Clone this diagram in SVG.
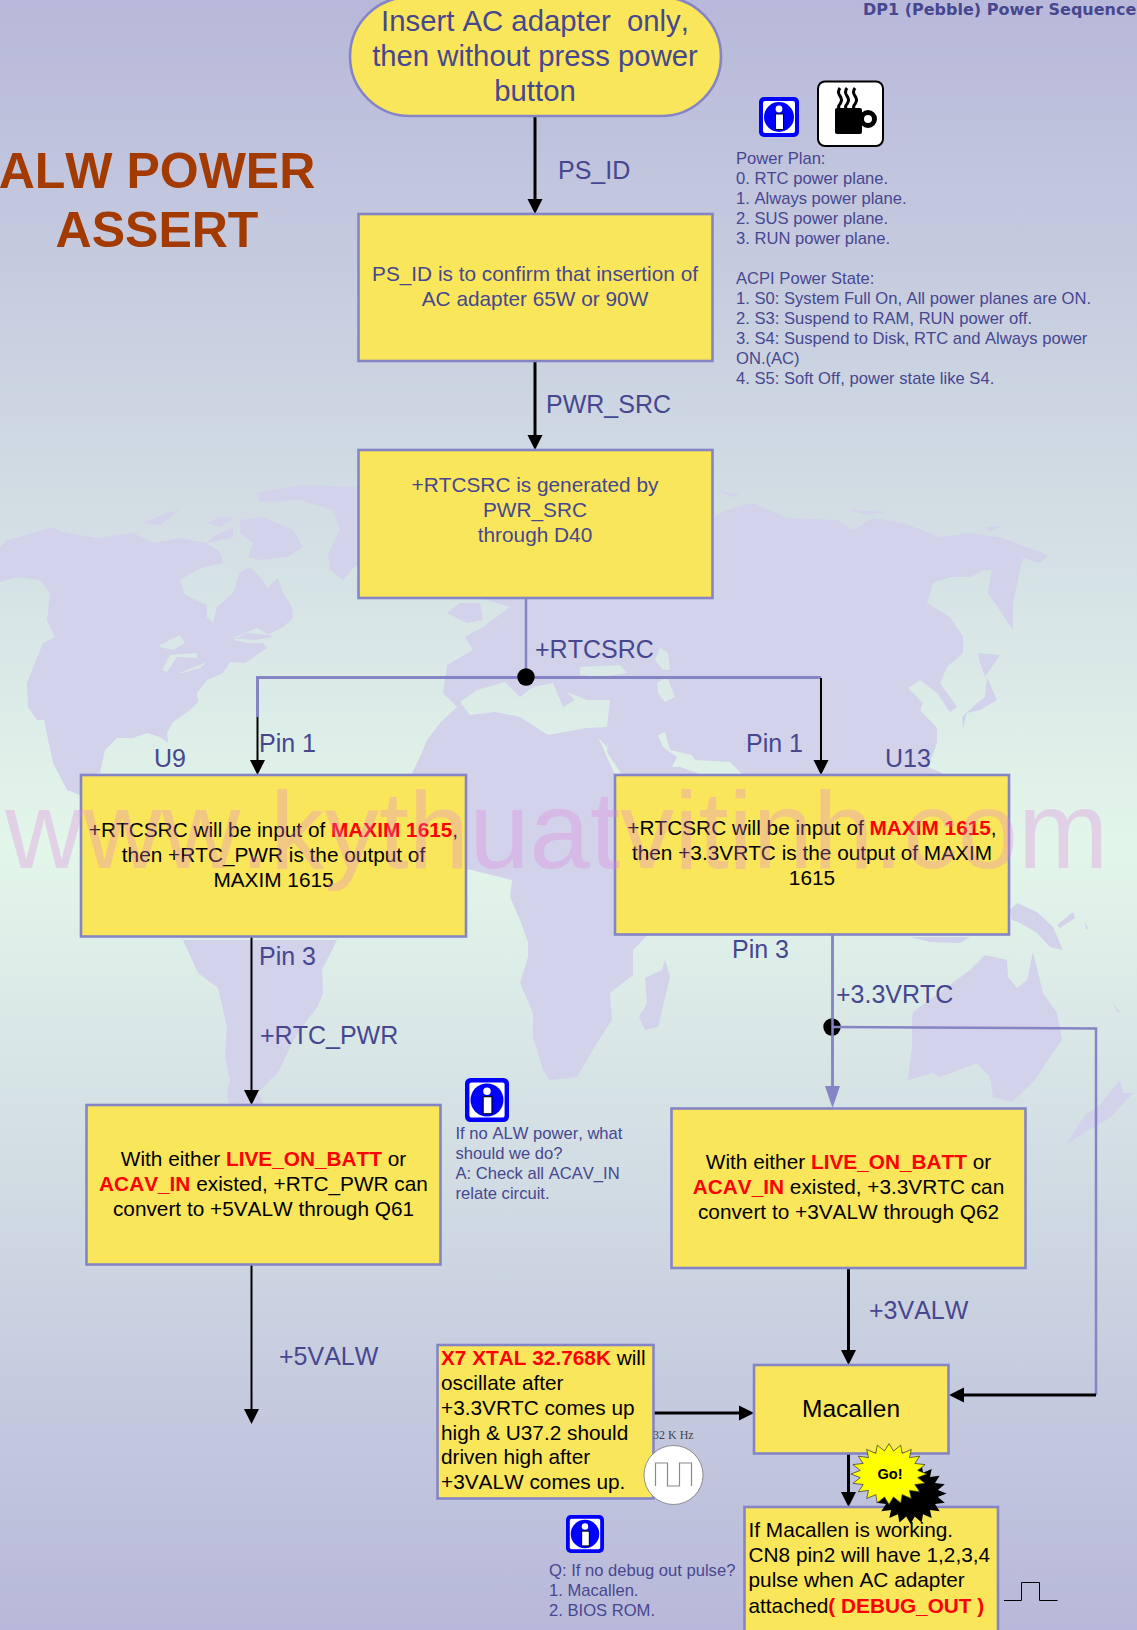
<svg xmlns="http://www.w3.org/2000/svg" xmlns:xlink="http://www.w3.org/1999/xlink" width="1137" height="1630" viewBox="0 0 1137 1630">
<style>
text{font-family:"Liberation Sans",Arial,sans-serif;fill:#47478f;font-kerning:none}
.box{fill:#fae65b;stroke:#8585c5;stroke-width:2.6}
.t21{font-size:20.8px}
.k{fill:#000}
.m{text-anchor:middle}
.r{fill:#ff0000;font-weight:bold}
.lab{font-size:25px}
.note{font-size:16.6px}
.blk{fill:none;stroke:#000;stroke-width:3}
.blk2{fill:none;stroke:#000;stroke-width:2}
.pur{fill:none;stroke:#8585c5;stroke-width:2.5}
.pur3{fill:none;stroke:#8585c5;stroke-width:3}
.land{fill:#d2d2ea}
</style>
<defs>
<linearGradient id="bg" x1="0" y1="0" x2="0" y2="1">
<stop offset="0" stop-color="#b8b8da"/>
<stop offset="0.52" stop-color="#e3f6ea"/>
<stop offset="1" stop-color="#b8b8da"/>
</linearGradient>
<marker id="ab" markerUnits="userSpaceOnUse" markerWidth="16" markerHeight="16" refX="7" refY="8" orient="auto"><path d="M0,0.5 L15,8 L0,15.5 Z" fill="#000"/></marker>
<marker id="ap2" markerUnits="userSpaceOnUse" markerWidth="24" markerHeight="16" refX="4" refY="8" orient="auto"><path d="M0,0.5 L22,8 L0,15.5 Z" fill="#8585c5"/></marker>
<symbol id="info" viewBox="0 0 40 40">
<rect width="40" height="40" rx="5" fill="#0000ff"/>
<rect x="4" y="4" width="32" height="32" rx="2" fill="#fff"/>
<circle cx="20" cy="20" r="15" fill="#0000ff"/>
<circle cx="20" cy="12" r="3.4" fill="#fff"/>
<rect x="16.5" y="17" width="8" height="15.5" fill="#fff" stroke="#000" stroke-width="1"/>
</symbol>
<polygon id="star" points="38,0 28.7,4.5 36.1,11.7 25.8,13.2 30.7,22.3 20.5,20.5 22.3,30.7 13.2,25.8 11.7,36.1 4.5,28.7 0,38 -4.5,28.7 -11.7,36.1 -13.2,25.8 -22.3,30.7 -20.5,20.5 -30.7,22.3 -25.8,13.2 -36.1,11.7 -28.7,4.5 -38,0 -28.7,-4.5 -36.1,-11.7 -25.8,-13.2 -30.7,-22.3 -20.5,-20.5 -22.3,-30.7 -13.2,-25.8 -11.7,-36.1 -4.5,-28.7 0,-38 4.5,-28.7 11.7,-36.1 13.2,-25.8 22.3,-30.7 20.5,-20.5 30.7,-22.3 25.8,-13.2 36.1,-11.7 28.7,-4.5"/>
</defs>
<rect width="1137" height="1630" fill="url(#bg)"/>
<g id="worldmap" class="land">
<path fill-rule="evenodd" d="M0,582 L0,548 L7,540 L33,533 L52,527 L62,532 L97,538 L133,533 L153,543 L180,538 L207,543 L220,552 L223,563 L200,568 L180,580 L185,595 L207,605 L207,617 L213,623 L217,607 L233,593 L240,572 L250,567 L263,580 L267,588 L278,578 L283,593 L292,607 L293,618 L283,627 L267,635 L247,633 L233,640 L248,643 L263,643 L267,648 L245,663 L230,662 L223,673 L207,680 L197,693 L198,702 L190,710 L173,722 L167,733 L168,743 L160,737 L147,733 L133,738 L117,738 L105,750 L100,773 L82,777 L85,797 L67,790 L53,763 L44,720 L37,720 L28,707 L27,683 L43,643 L55,637 L47,620 L50,593 L40,580 L17,577 Z
M160,645 L180,635 L185,643 L173,650 L160,647 Z M162,670 L170,655 L197,653 L197,658 L177,657 L167,672 Z M180,673 L207,662 L200,668 L183,673 Z M233,638 L257,628 L273,637 L255,640 Z"/>
<path d="M257,493 L300,485 L358,487 L358,563 L343,580 L330,570 L328,553 L340,530 L333,510 L300,500 L260,502 Z"/>
<path d="M142,523 L167,513 L180,510 L160,525 Z M207,523 L220,517 L233,518 L220,527 Z M240,520 L263,517 L293,530 L303,547 L287,557 L260,560 L248,557 L253,543 L240,533 Z M213,537 L233,527 L233,537 L207,543 Z"/>
<path d="M447,613 L460,603 L480,603 L483,620 L467,623 Z"/>
<path fill-rule="evenodd" d="M358,560 L713,517 L727,510 L753,503 L787,518 L837,520 L853,530 L873,518 L903,523 L940,537 L970,533 L1003,538 L1040,552 L1048,556 L1040,563 L1023,558 L1020,570 L1013,603 L1013,630 L988,593 L992,570 L983,570 L970,577 L950,577 L933,583 L927,603 L950,617 L963,637 L963,653 L947,667 L940,683 L957,707 L950,712 L937,693 L920,680 L908,688 L923,703 L920,710 L937,728 L937,743 L928,767 L942,773 L942,840 L700,880 L640,943 L633,950 L633,975 L620,985 L610,993 L612,1020 L597,1043 L577,1077 L550,1080 L543,1070 L533,1037 L533,1013 L520,983 L528,957 L528,942 L520,920 L510,897 L512,880 L430,860 L412,773 L420,757 L427,740 L440,723 L457,707 L443,693 L447,665 L473,650 L465,637 L483,627 L510,607 Z
M460,702 L477,690 L505,682 L520,697 L533,687 L553,683 L563,707 L575,700 L567,692 L587,700 L610,700 L607,727 L587,728 L548,735 L520,717 L495,712 L470,715 Z
M580,667 L620,665 L627,673 L600,677 L580,675 Z M657,683 L667,677 L675,697 L665,702 L658,693 Z M660,647 L668,653 L670,670 L663,670 L655,660 Z
M598,737 L607,747 L608,740 L607,752 L622,775 L615,775 Z
M658,735 L665,732 L670,750 L692,755 L695,760 L730,762 L743,775 L703,775 L680,767 L672,767 L677,757 L663,747 Z"/>
<path d="M987,677 L997,700 L980,710 L967,713 L963,728 L962,717 L977,703 L985,697 Z M978,653 L1000,655 L985,677 L980,663 Z M715,490 L740,495 L733,497 Z M848,510 L885,512 L868,515 Z M985,527 L1000,526 L990,532 Z"/>
<path d="M183,940 L198,973 L218,988 L227,1027 L225,1057 L230,1080 L227,1093 L230,1110 L267,1110 L258,1093 L270,1080 L278,1073 L292,1043 L307,1020 L317,1008 L323,993 L322,970 L337,940 Z"/>
<path d="M665,960 L670,977 L658,1027 L645,1030 L639,1017 L647,1003 L645,978 L662,970 Z"/>
<path d="M1010,910 L1017,903 L1037,912 L1053,927 L1063,950 L1050,947 L1037,933 L1020,923 L1012,920 Z M910,937 L970,937 L960,943 L930,942 Z M1057,925 L1073,912 L1075,918 L1060,928 Z M1085,922 L1088,928 L1086,930 Z M1112,1002 L1120,1012 L1118,1013 Z"/>
<path d="M912,1020 L913,1012 L947,987 L970,970 L985,955 L1007,960 L1008,977 L1017,988 L1027,980 L1033,952 L1043,993 L1057,1013 L1062,1040 L1050,1057 L1035,1080 L1012,1102 L993,1097 L990,1077 L977,1063 L940,1077 L933,1073 L908,1080 L912,1047 Z"/>
<path d="M1120,1080 L1123,1093 L1133,1093 L1110,1118 L1088,1130 L1066,1145 L1085,1115 L1100,1105 Z"/>
</g>
<g id="connectors">
<line class="blk" x1="535" y1="114" x2="535" y2="206" marker-end="url(#ab)"/>
<line class="blk" x1="535" y1="361" x2="535" y2="442" marker-end="url(#ab)"/>
<line class="pur" x1="526" y1="598" x2="526" y2="678"/>
<path class="pur3" d="M821,677.5 H257.5 V717"/>
<line class="blk2" x1="257.5" y1="717" x2="257.5" y2="767" marker-end="url(#ab)"/>
<line class="blk2" x1="821" y1="678" x2="821" y2="767" marker-end="url(#ab)"/>
<line class="blk2" x1="251.5" y1="934" x2="251.5" y2="1097" marker-end="url(#ab)"/>
<line class="blk2" x1="251.5" y1="1265" x2="251.5" y2="1416" marker-end="url(#ab)"/>
<line class="pur" x1="832.5" y1="935" x2="832.5" y2="1090" marker-end="url(#ap2)"/>
<circle cx="832" cy="1027" r="8.7" fill="#000"/>
<line class="pur" x1="832.5" y1="935" x2="832.5" y2="1090"/>
<path class="pur" d="M832,1027 L1096,1028.5 V1395"/>
<line class="blk" x1="1096" y1="1395" x2="957" y2="1395" marker-end="url(#ab)"/>
<line class="blk" x1="848.5" y1="1268" x2="848.5" y2="1357" marker-end="url(#ab)"/>
<line class="blk" x1="653" y1="1413" x2="746" y2="1413" marker-end="url(#ab)"/>
<line class="blk" x1="848.5" y1="1453" x2="848.5" y2="1499" marker-end="url(#ab)"/>
<circle cx="526" cy="677" r="8.7" fill="#000"/>
</g>
<g id="start"><rect class="box" x="350" y="-3" width="371" height="119" rx="60" ry="60"/>
<text class="m" x="535" y="31" font-size="29.3">Insert AC adapter &#160;only,</text>
<text class="m" x="535" y="66" font-size="29.3">then without press power</text>
<text class="m" x="535" y="101" font-size="29.3">button</text></g>
<text id="title" x="863" y="15" font-size="16" font-weight="bold" style="font-family:'DejaVu Sans',sans-serif">DP1 (Pebble) Power Sequence</text>
<g id="heading" font-weight="bold"><text class="m" x="157" y="188" font-size="50" style="fill:#a33a00">ALW POWER</text>
<text class="m" x="157" y="247" font-size="50" style="fill:#a33a00">ASSERT</text></g>
<g id="box-psid"><rect class="box" x="358.500" y="214" width="354" height="147"/>
<text class="m t21" x="535" y="281">PS_ID is to confirm that insertion of</text>
<text class="m t21" x="535" y="305.500">AC adapter 65W or 90W</text></g>
<g id="box-rtcsrc"><rect class="box" x="358.500" y="450" width="354" height="148"/>
<text class="m t21" x="535" y="492">+RTCSRC is generated by</text>
<text class="m t21" x="535" y="517">PWR_SRC</text>
<text class="m t21" x="535" y="542">through D40</text></g>
<g id="box-u9"><rect class="box" x="81" y="775" width="385" height="161.500"/>
<text class="m t21 k" x="273.500" y="837">+RTCSRC will be input of <tspan class="r">MAXIM 1615</tspan>,</text>
<text class="m t21 k" x="273.500" y="862">then +RTC_PWR is the output of</text>
<text class="m t21 k" x="273.500" y="887">MAXIM 1615</text></g>
<g id="box-u13"><rect class="box" x="615" y="775" width="394" height="159.500"/>
<text class="m t21 k" x="812" y="835">+RTCSRC will be input of <tspan class="r">MAXIM 1615</tspan>,</text>
<text class="m t21 k" x="812" y="860">then +3.3VRTC is the output of MAXIM</text>
<text class="m t21 k" x="812" y="885">1615</text></g>
<g id="box-q61"><rect class="box" x="86.500" y="1105" width="354" height="159.500"/>
<text class="m t21 k" x="263.500" y="1166">With either <tspan class="r">LIVE_ON_BATT</tspan> or</text>
<text class="m t21 k" x="263.500" y="1191"><tspan class="r">ACAV_IN</tspan> existed, +RTC_PWR can</text>
<text class="m t21 k" x="263.500" y="1216">convert to +5VALW through Q61</text></g>
<g id="box-q62"><rect class="box" x="671.500" y="1108.500" width="354" height="159.500"/>
<text class="m t21 k" x="848.500" y="1169">With either <tspan class="r">LIVE_ON_BATT</tspan> or</text>
<text class="m t21 k" x="848.500" y="1194"><tspan class="r">ACAV_IN</tspan> existed, +3.3VRTC can</text>
<text class="m t21 k" x="848.500" y="1219">convert to +3VALW through Q62</text></g>
<g id="box-x7"><rect class="box" x="437.500" y="1345" width="216" height="153.500"/>
<text class="t21 k" x="441" y="1365"><tspan class="r">X7 XTAL 32.768K</tspan> will</text>
<text class="t21 k" x="441" y="1390">oscillate after</text>
<text class="t21 k" x="441" y="1414.500">+3.3VRTC comes up</text>
<text class="t21 k" x="441" y="1439.500">high &amp; U37.2 should</text>
<text class="t21 k" x="441" y="1464">driven high after</text>
<text class="t21 k" x="441" y="1489">+3VALW comes up.</text></g>
<g id="box-macallen"><rect class="box" x="754" y="1365" width="194.500" height="88.500"/>
<text class="m k" x="851" y="1416.500" font-size="24.500">Macallen</text></g>
<g id="box-debug"><rect class="box" x="744.500" y="1507" width="253.500" height="130"/></g>
<g id="go"><use xlink:href="#star" href="#star" transform="translate(910.500,1493.500) scale(.95,.8)" fill="#000"/>
<use xlink:href="#star" href="#star" transform="translate(889,1474) scale(1,.8)" fill="#ffff00" stroke="#333" stroke-width=".8"/>
<text class="m k" x="890" y="1479" font-size="14.600" font-weight="bold">Go!</text></g>
<g id="debug-text">
<text class="t21 k" x="748.500" y="1536.500">If Macallen is working.</text>
<text class="t21 k" x="748.500" y="1562">CN8 pin2 will have 1,2,3,4</text>
<text class="t21 k" x="748.500" y="1587">pulse when AC adapter</text>
<text class="t21 k" x="748.500" y="1612.500">attached<tspan class="r">( DEBUG_OUT )</tspan></text></g>
<g id="labels">
<text class="lab" x="558" y="179">PS_ID</text>
<text class="lab" x="546" y="413">PWR_SRC</text>
<text class="lab" x="535" y="658">+RTCSRC</text>
<text class="lab" x="259" y="752">Pin 1</text>
<text class="lab" x="746" y="752">Pin 1</text>
<text class="lab" x="154" y="767">U9</text>
<text class="lab" x="885" y="767">U13</text>
<text class="lab" x="259" y="965">Pin 3</text>
<text class="lab" x="732" y="958">Pin 3</text>
<text class="lab" x="836" y="1003">+3.3VRTC</text>
<text class="lab" x="260" y="1044">+RTC_PWR</text>
<text class="lab" x="869" y="1319">+3VALW</text>
<text class="lab" x="279" y="1365">+5VALW</text>
</g>
<g id="notes">
<use xlink:href="#info" href="#info" x="759" y="97" width="40" height="40"/>
<g id="coffee"><rect x="818" y="81.500" width="65" height="64.500" rx="7" fill="#fff" stroke="#000" stroke-width="2"/>
<rect x="835" y="108" width="27" height="26" rx="2" fill="#000"/>
<circle cx="868" cy="119" r="6.500" fill="#fff" stroke="#000" stroke-width="5"/>
<path d="M840,88 q-3,4 0,8 q3,4 0,8 q-3,3 0,6 M847,88 q-3,4 0,8 q3,4 0,8 q-3,3 0,6 M855,88 q-3,4 0,8 q3,4 0,8 q-3,3 0,6" fill="none" stroke="#000" stroke-width="3"/></g>
<text class="note" x="736" y="164">Power Plan:</text>
<text class="note" x="736" y="184">0. RTC power plane.</text>
<text class="note" x="736" y="204">1. Always power plane.</text>
<text class="note" x="736" y="224">2. SUS power plane.</text>
<text class="note" x="736" y="244">3. RUN power plane.</text>
<text class="note" x="736" y="284">ACPI Power State:</text>
<text class="note" x="736" y="304">1. S0: System Full On, All power planes are ON.</text>
<text class="note" x="736" y="324">2. S3: Suspend to RAM, RUN power off.</text>
<text class="note" x="736" y="344">3. S4: Suspend to Disk, RTC and Always power</text>
<text class="note" x="736" y="364">ON.(AC)</text>
<text class="note" x="736" y="384">4. S5: Soft Off, power state like S4.</text>
<use xlink:href="#info" href="#info" x="465" y="1077" width="44" height="46"/>
<text class="note" x="455.500" y="1139">If no ALW power, what</text>
<text class="note" x="455.500" y="1159">should we do?</text>
<text class="note" x="455.500" y="1179">A: Check all ACAV_IN</text>
<text class="note" x="455.500" y="1199">relate circuit.</text>
<use xlink:href="#info" href="#info" x="566" y="1514" width="38" height="40"/>
<text class="note" x="549" y="1576">Q: If no debug out pulse?</text>
<text class="note" x="549" y="1596">1. Macallen.</text>
<text class="note" x="549" y="1616">2. BIOS ROM.</text>
</g>
<g id="clock">
<text x="653" y="1439" font-size="12" style="font-family:'Liberation Serif',serif;fill:#444">32 K Hz</text>
<circle cx="673.500" cy="1475" r="29.500" fill="#fff" stroke="#777" stroke-width=".8"/>
<path d="M655.500,1486 V1463 H667.500 V1486 H679.500 V1463 H691.500 V1486" fill="none" stroke="#8a8a8a" stroke-width="1.200"/>
</g>
<path id="pulse" d="M1004,1600.500 H1021.500 V1582.500 H1039.500 V1600.500 H1057.500" fill="none" stroke="#000" stroke-width="1"/>
<text id="watermark" x="5" y="868" font-size="108.500" style="fill:#e080e0" opacity=".3">www.kythuatvitinh.com</text>
</svg>
